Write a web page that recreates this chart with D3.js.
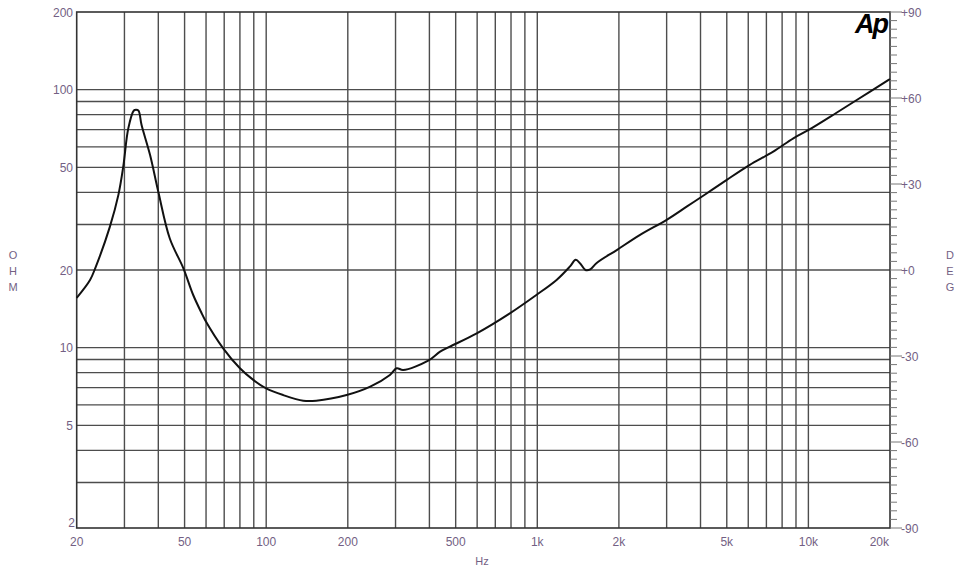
<!DOCTYPE html>
<html>
<head>
<meta charset="utf-8">
<script src="https://cdn.jsdelivr.net/npm/d3@7"></script>
<style>
  html, body { margin: 0; padding: 0; background: #fff; }
  svg { display: block; }
  text { font-family: "Liberation Sans", Arial, sans-serif; }
</style>
</head>
<body>
<svg id="chart" width="966" height="573"></svg>
<script>
// ---- data ----
const freqHz = [20, 22.4, 23.4, 26.5, 28.5, 29.7, 31.0, 32.5, 33.1, 33.8, 34.7, 37.3, 40.0, 44.1, 49.5, 53.8, 57.8, 59.5, 69.4, 80, 89.6, 100, 115.6, 137, 153, 198, 242, 286, 303, 320, 396, 438, 476, 598, 792, 992, 1178, 1318, 1386, 1440, 1505, 1568, 1656, 1964, 2386, 3000, 3556, 4212, 5000, 6060, 7420, 8800, 10020, 12700, 15080, 19700, 20000];
const impedanceOhm = [15.6, 18.3, 20.3, 29.4, 39.1, 50.3, 70.8, 83.0, 83.6, 83.0, 72.9, 55.8, 40.2, 26.5, 20.3, 16.0, 13.6, 12.8, 9.94, 8.32, 7.50, 6.95, 6.55, 6.23, 6.23, 6.55, 7.06, 7.84, 8.32, 8.19, 8.90, 9.65, 10.09, 11.36, 13.58, 16.0, 18.3, 20.6, 21.9, 21.2, 20.0, 20.1, 21.3, 23.9, 27.3, 31.3, 35.2, 39.6, 44.7, 51.0, 57.5, 64.8, 69.8, 81.4, 91.2, 108.9, 110];

const xGridHz = [30, 40, 50, 60, 70, 80, 90, 100, 200, 300, 400, 500, 600, 700, 800, 900, 1000, 2000, 3000, 4000, 5000, 6000, 7000, 8000, 9000, 10000];
const yGridOhm = [3, 4, 5, 6, 7, 8, 9, 10, 20, 30, 40, 50, 60, 70, 80, 90, 100];
const xTickHz = [20, 50, 100, 200, 500, 1000, 2000, 5000, 10000, 20000];
const xTickLabels = ["20", "50", "100", "200", "500", "1k", "2k", "5k", "10k", "20k"];
const yTickOhm = [200, 100, 50, 20, 10, 5, 2];
const degMajor = [90, 60, 30, 0, -30, -60, -90];
const degMajorLabels = ["+90", "+60", "+30", "+0", "-30", "-60", "-90"];

// ---- layout ----
const L = 76.7, R = 890, T = 12, B = 528;
const labelColor = "#735f84";
const svg = d3.select("#chart");

const x = d3.scaleLog().domain([20, 20000]).range([L, R]);
const y = d3.scaleLog().domain([2, 200]).range([B, T]);
const yDeg = d3.scaleLinear().domain([-90, 90]).range([B, T]);

// grid
const g = svg.append("g");
g.selectAll("line.v").data(xGridHz).enter().append("line")
  .attr("x1", d => x(d)).attr("x2", d => x(d))
  .attr("y1", T).attr("y2", B)
  .attr("stroke", "#4d4d4d").attr("stroke-width", 1.4);
g.selectAll("line.h").data(yGridOhm).enter().append("line")
  .attr("x1", L).attr("x2", R)
  .attr("y1", d => y(d)).attr("y2", d => y(d))
  .attr("stroke", "#4d4d4d").attr("stroke-width", 1.4);

// border
svg.append("rect").attr("x", L).attr("y", T).attr("width", R - L).attr("height", B - T)
  .attr("fill", "none").attr("stroke", "#333").attr("stroke-width", 1.6);

// right deg axis ticks
const minorDeg = d3.range(-90, 91, 3);
svg.append("g").selectAll("line").data(minorDeg).enter().append("line")
  .attr("x1", R).attr("x2", d => (d % 30 === 0 ? R + 12 : R + 7))
  .attr("y1", d => yDeg(d)).attr("y2", d => yDeg(d))
  .attr("stroke", "#777").attr("stroke-width", 1);

svg.append("g").selectAll("text").data(degMajor).enter().append("text")
  .attr("x", R + 11).attr("y", d => yDeg(d) + 4.5)
  .attr("font-size", 12).attr("fill", labelColor)
  .text((d, i) => degMajorLabels[i]);

// left ohm labels
svg.append("g").selectAll("text").data(yTickOhm).enter().append("text")
  .attr("x", d => d === 2 ? 75 : 73)
  .attr("y", d => d === 2 ? y(d) - 1 : y(d) + 4.5)
  .attr("text-anchor", "end")
  .attr("font-size", 12).attr("fill", labelColor)
  .text(d => d);

// bottom freq labels
svg.append("g").selectAll("text").data(xTickHz).enter().append("text")
  .attr("x", d => d === 20000 ? x(d) - 1 : x(d))
  .attr("y", 546)
  .attr("text-anchor", d => d === 20000 ? "end" : "middle")
  .attr("font-size", 12).attr("fill", labelColor)
  .text((d, i) => xTickLabels[i]);

svg.append("text").attr("x", 482).attr("y", 565).attr("text-anchor", "middle")
  .attr("font-size", 11).attr("fill", labelColor).text("Hz");

// vertical axis titles
["O", "H", "M"].forEach((c, i) => {
  svg.append("text").attr("x", 13).attr("y", 259 + i * 16).attr("text-anchor", "middle")
    .attr("font-size", 11).attr("fill", labelColor).text(c);
});
["D", "E", "G"].forEach((c, i) => {
  svg.append("text").attr("x", 950).attr("y", 259 + i * 16).attr("text-anchor", "middle")
    .attr("font-size", 11).attr("fill", labelColor).text(c);
});

// Ap logo
svg.append("text").attr("x", 887).attr("y", 33).attr("text-anchor", "end")
  .attr("font-size", 27).attr("font-weight", "bold").attr("font-style", "italic")
  .attr("letter-spacing", -2).attr("fill", "#000").text("Ap");

// impedance curve
const pts = freqHz.map((f, i) => [f, impedanceOhm[i]]);
const line = d3.line().x(d => x(d[0])).y(d => y(d[1])).curve(d3.curveCatmullRom.alpha(0.5));
svg.append("path").datum(pts).attr("d", line)
  .attr("fill", "none").attr("stroke", "#111").attr("stroke-width", 2);
</script>
</body>
</html>
